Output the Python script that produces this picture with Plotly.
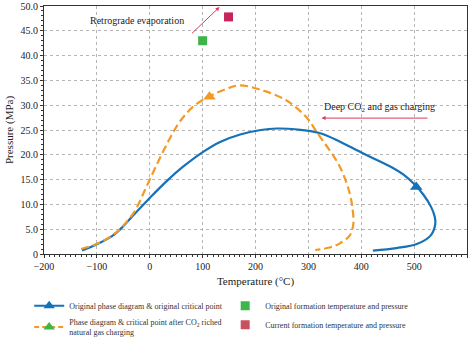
import plotly.graph_objects as go

# Original phase envelope (blue)
blue_T = [-128, -101, -70, -51, -32, 0, 32, 63, 101, 133, 171, 210, 240, 280, 321, 359, 403, 454, 480, 500, 518, 532, 539, 540, 531, 505, 467, 422]
blue_P = [0.7, 1.9, 3.7, 5.5, 7.7, 11.3, 14.7, 17.6, 20.6, 22.6, 24.1, 25.0, 25.3, 25.1, 24.4, 22.7, 20.3, 17.7, 16.0, 14.1, 11.9, 9.5, 7.5, 6.0, 3.7, 2.0, 1.2, 0.7]
# After CO2 charging (orange dashed)
orange_T = [-130, -101, -70, -51, -28, -13, 0, 19, 38, 57, 82, 113, 145, 170, 213, 258, 296, 317, 359, 378, 384, 385, 378, 359, 340, 313]
orange_P = [1.0, 2.0, 3.8, 5.6, 8.7, 12.0, 15.0, 19.3, 23.3, 26.7, 29.7, 31.8, 33.3, 34.0, 33.0, 31.0, 27.6, 24.4, 17.7, 12.3, 8.7, 6.0, 3.7, 2.1, 1.3, 0.8]
blue_crit = (504, 13.5)
orange_crit = (113, 31.7)
orig_formation = (100, 43.0)
curr_formation = (149, 47.8)

y_ticks = [0, 5, 10, 15, 20, 25, 30, 35, 40, 45, 50]
y_labels = ["0"] + [f"{v:.1f}" for v in y_ticks[1:]]

BLUE = "#1571b8"
ORANGE = "#f39a26"
GREEN = "#3db54a"
RED = "#c8235a"
RED_LEGEND = "#c9505e"
ARROW = "#e0365a"
FONT = "Liberation Serif"
DASH = "8px,4px"

fig = go.Figure()
fig.add_trace(go.Scatter(x=blue_T, y=blue_P, mode="lines", line=dict(color=BLUE, width=2.2, shape="spline", smoothing=1.0), showlegend=False))
fig.add_trace(go.Scatter(x=orange_T, y=orange_P, mode="lines", line=dict(color=ORANGE, width=2.2, dash=DASH, shape="spline", smoothing=1.0), showlegend=False))
fig.add_trace(go.Scatter(x=[blue_crit[0]], y=[blue_crit[1]], mode="markers",
                         marker=dict(symbol="triangle-up", size=11, color=BLUE), showlegend=False))
fig.add_trace(go.Scatter(x=[orange_crit[0]], y=[orange_crit[1]], mode="markers",
                         marker=dict(symbol="triangle-up", size=11, color=ORANGE), showlegend=False))
fig.add_trace(go.Scatter(x=[orig_formation[0]], y=[orig_formation[1]], mode="markers",
                         marker=dict(symbol="square", size=9, color=GREEN), showlegend=False))
fig.add_trace(go.Scatter(x=[curr_formation[0]], y=[curr_formation[1]], mode="markers",
                         marker=dict(symbol="square", size=9, color=RED), showlegend=False))
# legend entries
fig.add_trace(go.Scatter(x=[None], y=[None], mode="lines+markers", name="Original phase diagram & original critical point",
                         line=dict(color=BLUE, width=2), marker=dict(symbol="triangle-up", size=10, color=BLUE)))
fig.add_trace(go.Scatter(x=[None], y=[None], mode="markers",
                         name="Original formation temperature and pressure",
                         marker=dict(symbol="square", size=9, color=GREEN)))
fig.add_trace(go.Scatter(x=[None], y=[None], mode="lines+markers",
                         name="Phase diagram & critical point after CO<sub>2</sub> riched<br>natural gas charging",
                         line=dict(color=ORANGE, width=2, dash="5px,3px"), marker=dict(symbol="triangle-up", size=10, color=GREEN)))
fig.add_trace(go.Scatter(x=[None], y=[None], mode="markers",
                         name="Current formation temperature and pressure",
                         marker=dict(symbol="square", size=9, color=RED_LEGEND)))

fig.add_annotation(x=-25, y=47, text="Retrograde evaporation", showarrow=False,
                   font=dict(family=FONT, size=10, color="#222"))
fig.add_annotation(x=132, y=49.8, ax=77, ay=44.2, xref="x", yref="y", axref="x", ayref="y",
                   showarrow=True, arrowhead=2, arrowsize=0.8, arrowwidth=1, arrowcolor=ARROW, text="")
fig.add_annotation(x=434, y=29.6, text="Deep CO<sub>2</sub> and gas charging", showarrow=False,
                   font=dict(family=FONT, size=10, color="#222"))
fig.add_annotation(x=325, y=27.4, ax=528, ay=27.4, xref="x", yref="y", axref="x", ayref="y",
                   showarrow=True, arrowhead=2, arrowsize=0.8, arrowwidth=1, arrowcolor=ARROW, text="")

axis_common = dict(showline=True, linecolor="#333", linewidth=1, mirror=True,
                   showgrid=True, gridcolor="#b5b5b5", griddash="dot", gridwidth=1,
                   zeroline=False, ticks="outside", ticklen=3, tickcolor="#333",
                   tickfont=dict(family=FONT, size=10, color="#222"))

fig.update_xaxes(range=[-200, 600], dtick=100, tick0=0,
                 title=dict(text="Temperature (°C)", font=dict(family=FONT, size=11, color="#222"), standoff=6),
                 minor=dict(ticks="outside", ticklen=2, dtick=10, tickcolor="#333", showgrid=False),
                 **axis_common)
fig.update_yaxes(range=[0, 50], tickvals=y_ticks, ticktext=y_labels,
                 title=dict(text="Pressure (MPa)", font=dict(family=FONT, size=11, color="#222"), standoff=4),
                 minor=dict(ticks="outside", ticklen=2, dtick=1, tickcolor="#333", showgrid=False),
                 **axis_common)

fig.update_layout(
    width=474, height=338,
    margin=dict(l=44, r=7, t=6, b=84, autoexpand=False),
    plot_bgcolor="white", paper_bgcolor="white",
    legend=dict(orientation="h", x=-0.035, y=-0.15, xanchor="left", yanchor="top",
                entrywidth=151, entrywidthmode="pixels",
                font=dict(family=FONT, size=8, color="#333"), tracegroupgap=0,
                itemwidth=30),
)
fig.write_html("out.html")
